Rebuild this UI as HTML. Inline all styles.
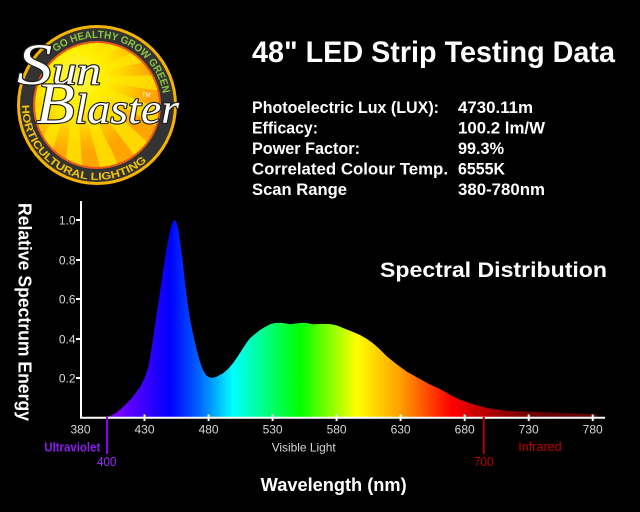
<!DOCTYPE html>
<html><head><meta charset="utf-8">
<style>
html,body{margin:0;padding:0;background:#000;}
#wrap{position:relative;width:640px;height:512px;overflow:hidden;background:#000;}
.c{position:absolute;border-radius:50%;}
#svg{position:absolute;left:0;top:0;}
</style></head>
<body>
<div id="wrap">
  <div class="c" style="left:17px;top:25px;width:160px;height:160px;background:#f6b400;"></div>
  <div class="c" style="left:20px;top:28px;width:154px;height:154px;background:#333;"></div>
  <div class="c" style="left:33px;top:41px;width:128px;height:128px;background:#e85a1a;"></div>
  <div class="c" style="left:35px;top:43px;width:124px;height:124px;background:radial-gradient(circle at 33% 28%, #fff65a 0, #fff000 22%, rgba(255,232,0,0.75) 38%, rgba(255,215,0,0) 62%), repeating-conic-gradient(from 0deg at 33% 28%, #ffd800 0deg 11deg, #ffa400 11deg 22deg);"></div>
<svg id="svg" width="640" height="512" viewBox="0 0 640 512" xmlns="http://www.w3.org/2000/svg">
  <defs>
    <path id="topArc" d="M55.75,52.2 A67,67 0 0,1 163.9,101.5"/>
    <path id="botArc" d="M22,105 A75,75 0 0,0 158.4,148"/>
    <linearGradient id="spec" gradientUnits="userSpaceOnUse" x1="104" y1="0" x2="600" y2="0">
      <stop offset="0" stop-color="#8a00ff"/>
      <stop offset="0.025" stop-color="#7a00ff"/>
      <stop offset="0.133" stop-color="#0000ff"/>
      <stop offset="0.19" stop-color="#0060ff"/>
      <stop offset="0.26" stop-color="#00ffff"/>
      <stop offset="0.395" stop-color="#00ff00"/>
      <stop offset="0.51" stop-color="#ffff00"/>
      <stop offset="0.597" stop-color="#ffa000"/>
      <stop offset="0.7" stop-color="#ff0000"/>
      <stop offset="0.8" stop-color="#990000"/>
      <stop offset="0.88" stop-color="#6a0000"/>
      <stop offset="1" stop-color="#600000"/>
    </linearGradient>
  </defs>

  <!-- logo arc text -->
  <text font-family="Liberation Sans, sans-serif" font-weight="bold" font-size="10.5" fill="#8cc63f"><textPath href="#topArc" textLength="138" lengthAdjust="spacingAndGlyphs">GO HEALTHY  GROW GREEN</textPath></text>
  <text font-family="Liberation Sans, sans-serif" font-weight="bold" font-size="10.5" fill="#f5c400"><textPath href="#botArc" textLength="172" lengthAdjust="spacingAndGlyphs">HORTICULTURAL  LIGHTING</textPath></text>

  <!-- logo script text -->
  <g font-family="Liberation Serif, serif" font-style="italic" fill="#fff" stroke="#1a1a1a" stroke-width="2.2" paint-order="stroke" stroke-linejoin="round">
    <text x="17" y="84" textLength="84" lengthAdjust="spacingAndGlyphs"><tspan font-size="58">S</tspan><tspan font-size="40">un</tspan></text>
    <text x="36" y="123" textLength="143" lengthAdjust="spacingAndGlyphs"><tspan font-size="58">B</tspan><tspan font-size="42">laster</tspan></text>
  </g>
  <text x="142" y="97" font-family="Liberation Sans, sans-serif" font-size="6" fill="#fff">TM</text>

  <!-- title and info -->
  <text x="252" y="62" font-family="Liberation Sans, sans-serif" font-weight="bold" font-size="30" fill="#fff" textLength="363" lengthAdjust="spacingAndGlyphs">48" LED Strip Testing Data</text>
  <g font-family="Liberation Sans, sans-serif" font-weight="bold" font-size="17" fill="#fff">
    <text x="252" y="113" textLength="187" lengthAdjust="spacingAndGlyphs">Photoelectric Lux (LUX):</text>
    <text x="252" y="133.5" textLength="66" lengthAdjust="spacingAndGlyphs">Efficacy:</text>
    <text x="252" y="154" textLength="108" lengthAdjust="spacingAndGlyphs">Power Factor:</text>
    <text x="252" y="174.5" textLength="196" lengthAdjust="spacingAndGlyphs">Correlated Colour Temp.</text>
    <text x="252" y="195" textLength="95" lengthAdjust="spacingAndGlyphs">Scan Range</text>
    <text x="458" y="113" textLength="75" lengthAdjust="spacingAndGlyphs">4730.11m</text>
    <text x="458" y="133.5" textLength="87" lengthAdjust="spacingAndGlyphs">100.2 lm/W</text>
    <text x="458" y="154" textLength="46" lengthAdjust="spacingAndGlyphs">99.3%</text>
    <text x="458" y="174.5" textLength="47" lengthAdjust="spacingAndGlyphs">6555K</text>
    <text x="458" y="195" textLength="87" lengthAdjust="spacingAndGlyphs">380-780nm</text>
  </g>

  <text x="380" y="277" font-family="Liberation Sans, sans-serif" font-weight="bold" font-size="21" fill="#fff" textLength="227" lengthAdjust="spacingAndGlyphs">Spectral Distribution</text>

  <!-- spectrum -->
  <path fill="url(#spec)" d="M104,417.5 L110,416 L116,413 L123,407 L131,399 L140,387 L145,377 L148.5,366 L151,352 L153.5,336 L156,318 L158.5,302 L161,285 L163.5,268 L166,252 L168.5,238 L171,227 L173,221.5 L174.7,220 L176.5,222 L178.5,230 L180.5,244 L183,264 L185,283 L187.5,302 L190,319 L193,334 L196.5,349 L200,362 L203,370 L206,375 L209,377.3 L212,377.8 L216,377 L223,373.3 L228,369 L233,363.3 L238,356 L243,348.3 L247,342 L250,338.3 L255,334 L260,330 L265,327 L270,324.3 L275,323 L280,322.7 L285,323.2 L290,324.3 L296,323.5 L303,322.7 L308,323.3 L313,324.3 L320,324 L330,324 L337,325.5 L343,328 L352,331.5 L360,335 L367,339 L373,343.3 L380,349.5 L387,356.5 L397,364.5 L407,371.7 L420,379 L430,384.5 L440,389 L453,396.5 L462,400.5 L470,403.3 L486,407.7 L506,410.7 L536,412 L570,413.3 L597,414.3 L597,417.5 Z"/>

  <!-- axes -->
  <g stroke="#fff" stroke-width="2" fill="none">
    <line x1="81" y1="201" x2="81" y2="418.5"/>
    <line x1="80" y1="417.7" x2="605" y2="417.7"/>
    <line x1="76" y1="220" x2="81" y2="220"/>
    <line x1="76" y1="260" x2="81" y2="260"/>
    <line x1="76" y1="299" x2="81" y2="299"/>
    <line x1="76" y1="339" x2="81" y2="339"/>
    <line x1="76" y1="378" x2="81" y2="378"/>
    <line x1="144.5" y1="414.5" x2="144.5" y2="421"/>
    <line x1="208.6" y1="414.5" x2="208.6" y2="421"/>
    <line x1="272.6" y1="414.5" x2="272.6" y2="421"/>
    <line x1="336.6" y1="414.5" x2="336.6" y2="421"/>
    <line x1="400.6" y1="414.5" x2="400.6" y2="421"/>
    <line x1="464.7" y1="414.5" x2="464.7" y2="421"/>
    <line x1="528.7" y1="414.5" x2="528.7" y2="421"/>
    <line x1="592.7" y1="414.5" x2="592.7" y2="421"/>
  </g>

  <g font-family="Liberation Sans, sans-serif" font-size="12" fill="#d8d8d8" text-anchor="end">
    <text x="75.5" y="224.5">1.0</text>
    <text x="75.5" y="264.5">0.8</text>
    <text x="75.5" y="303.5">0.6</text>
    <text x="75.5" y="343.5">0.4</text>
    <text x="75.5" y="382.5">0.2</text>
  </g>
  <g font-family="Liberation Sans, sans-serif" font-size="12" fill="#d8d8d8" text-anchor="middle">
    <text x="80.5" y="433.5">380</text>
    <text x="144.5" y="433.5">430</text>
    <text x="208.6" y="433.5">480</text>
    <text x="272.6" y="433.5">530</text>
    <text x="336.6" y="433.5">580</text>
    <text x="400.6" y="433.5">630</text>
    <text x="464.7" y="433.5">680</text>
    <text x="528.7" y="433.5">730</text>
    <text x="592.7" y="433.5">780</text>
  </g>

  <!-- markers -->
  <line x1="107" y1="417" x2="107" y2="454" stroke="#8a00ff" stroke-width="2"/>
  <line x1="483.7" y1="417" x2="483.7" y2="454" stroke="#b00000" stroke-width="2"/>
  <text x="44.3" y="451.5" font-family="Liberation Sans, sans-serif" font-weight="bold" font-size="13" fill="#8a1cf0" textLength="56" lengthAdjust="spacingAndGlyphs">Ultraviolet</text>
  <text x="97" y="466" font-family="Liberation Sans, sans-serif" font-size="13" fill="#9a2cff" textLength="19.5" lengthAdjust="spacingAndGlyphs">400</text>
  <text x="271.7" y="451.5" font-family="Liberation Sans, sans-serif" font-size="12" fill="#d8d8d8" textLength="64" lengthAdjust="spacingAndGlyphs">Visible Light</text>
  <text x="518.3" y="451" font-family="Liberation Sans, sans-serif" font-size="13" fill="#c00000" textLength="43.4" lengthAdjust="spacingAndGlyphs">Infrared</text>
  <text x="474" y="466" font-family="Liberation Sans, sans-serif" font-size="13" fill="#c00000" textLength="19.5" lengthAdjust="spacingAndGlyphs">700</text>

  <!-- axis titles -->
  <text x="260.7" y="491" font-family="Liberation Sans, sans-serif" font-weight="bold" font-size="18" fill="#fff" textLength="146" lengthAdjust="spacingAndGlyphs">Wavelength (nm)</text>
  <text transform="translate(18.5,203) rotate(90)" x="0" y="0" font-family="Liberation Sans, sans-serif" font-weight="bold" font-size="18" fill="#fff" textLength="218" lengthAdjust="spacingAndGlyphs">Relative Spectrum Energy</text>
</svg>
</div>
</body></html>
